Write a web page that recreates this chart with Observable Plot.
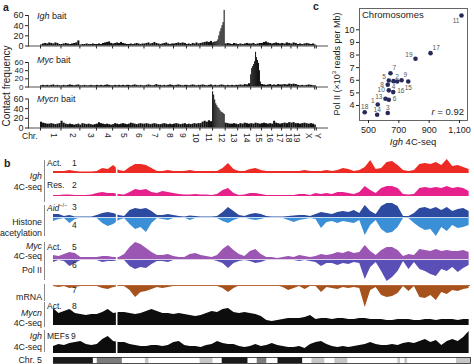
<!DOCTYPE html>
<html><head><meta charset="utf-8">
<script src="https://cdn.jsdelivr.net/npm/d3@7"></script>
<script src="https://cdn.jsdelivr.net/npm/@observablehq/plot@0.6"></script>
<style>
body{margin:0;background:#fff;font-family:"Liberation Sans",Arial,sans-serif;}
#root{position:relative;width:474px;height:364px;overflow:hidden;background:#fff;}
#root svg{position:absolute;}
</style></head><body><div id="root"></div>
<script>
// ---------------- DATA ----------------
// Panel a: mouse chromosomes (mm9 lengths, Mb)
const chromNames = ["1","2","3","4","5","6","7","8","9","10","11","12","13","14","15","16","17","18","19","X","Y"];
const chromLengths = [197.2,181.7,159.6,155.6,152.5,149.5,152.5,131.7,124.1,130.0,121.8,121.3,120.3,125.2,103.5,98.3,95.3,90.8,61.3,166.7,15.9];
// contact frequency per chromosome (bins spread evenly along each chromosome)
const ighBait = [
 [2,4,5,4,6,5,4,6,5,3],[3,4,5,4,3,4,5,6,10],[2,3,3,4,3,3,4,3],[3,4,3,5,6,7,8,5],
 [4,5,6,5,7,5,4,3],[3,4,3,4,5,4,3,4],[4,5,6,4,5,7,5,4],[3,4,5,6,4,3,4],
 [4,5,6,5,6,5],[3,4,3,5,4,6,4],[5,6,7,8,7,9],
 [6,7,8,8,9,12,20,28,34,40,46,70],
 [4,5,4,3,5,4],[3,4,3,4,5,4],[4,5,3,4,5],[5,7,8,6,5],[4,5,6,5,4],[5,4,6,5],[4,6,5],
 [3,4,3,4,5,4,3,4],[2]
];
const mycBait = [
 [3,4,3,4,3,4,5,3,4,3],[3,4,3,4,5,4,3,4,5],[3,3,4,3,3,4,3,3],[4,3,4,3,4,5,4,3],
 [3,4,3,4,3,4,3,4],[4,3,4,5,4,3,4,3],[3,4,5,4,3,4,6,4],[4,3,4,3,4,5,4],
 [3,4,5,4,3,4],[4,3,4,5,4,3,4],[4,5,4,3,4,5],[3,4,3,4,5,4],[3,4,3,4,3,4],[4,5,4,6,5,8],
 [30,45,50,55,62,85,72,65,58,40,12],
 [6,5,4,5,6],[4,5,4,6,5],[5,6,5,7],[6,7,6],[4,3,4,3,4,5,4,3],[3]
];
const mycnBait = [
 [12,10,9,8,8,9,8,7,8,9],[14,10,8,7,8,7,6,7,8],[6,9,8,7,8,7,6,7],[8,11,9,8,7,8,7,6],
 [7,9,8,7,8,9,8,7],[8,10,9,8,7,8,9,8],[8,9,8,7,8,9,8,7],[7,8,9,8,7,8,7],
 [8,9,8,7,8,9],[7,8,7,8,9,8,9],[9,12,14,12,15,13],
 [75,68,58,50,46,42,40,36,33,32,30,28],
 [10,9,8,8,9,8],[7,9,8,10,9,8],[9,8,10,9,8],[9,10,9,8,9],[8,14,10,9,8],[9,10,9,11],[10,11,9],
 [9,8,9,10,9,8,9,8],[6]
];
const contactTicks = [0,20,40,60];

// Panel b: chromosome 5 tracks, 2-Mb bins from 0 Mb
const binMb = 2;
const chr5Length = 152.5;
const act1 = [2,2,2,3,2,1.5,1.5,1.5,2,5, 4,8,3,2,6,9,9,8,5,2, 2,3,2,2,2,3,2,2,2,2, 2,5,10,4,2,2,4,5,3,2, 2,2,2,2,2,2,3,2,2,2, 3,2,3,5,4,2,3,6,13,4, 5,11,12,8,3,2,3,9,10,9, 11,8,14,7,8,6,4];
const res2 = [1,1,1.5,1.5,1,1,1,1.5,3,4, 3,3,2,1.5,4,7,6,7,4,3, 5,4,3,2,1.5,1.5,2,1.5,1.5,1, 2,6,8,3,1,1.5,3,3,2,1, 1,1,1,1,1,2,2,1,3,2, 3,2,4,4,3,2,4,10,6,3, 8,10,10,8,2,1.5,2,8,9,8, 9,8,10,8,9,8,5];
const aid3 = [3,3,1,2,0.5,0.5,0.5,0.5,2,4, 5,4,2,1,7,9,8,9,6,2, 2,3,2,1,0.5,1.5,1,0.5,0.5,0.5, 1,5,10,6,2,1,3,4,3,1, 0.5,0.5,0.5,1,1.5,2,2,1,3,5, 4,3,5,6,5,7,4,12,6,3, 11,14,14,11,1,1,4,9,10,8, 10,7,10,6,8,9,6];
const aid4 = [4,2,1,6,2,0.5,0.5,0.5,1,6, 9,7,3,1,7,12,10,15,6,1, 2,3,1,1,0.5,3,1,0.5,0.5,0.5, 1,4,6,3,1,0.5,2,3,2,0.5, 0.5,0.5,1,3,5,3,2,1,2,11, 5,4,6,4,5,6,3,18,8,3, 12,16,15,10,1,1,6,10,13,12, 19,10,14,8,11,10,8];
const act5 = [4,3,5,7,6,2,2,2,2,3, 3,2,2,5,12,17,15,11,7,4, 4,5,3,2,2,5,6,4,3,2, 4,10,14,9,5,3,8,10,5,2, 2,1,2,3,2,4,3,2,3,5, 4,5,7,6,8,6,7,14,8,4, 9,12,12,9,3,5,4,10,9,8, 10,8,9,8,8,9,7];
const pol6 = [3,1,2,7,4,1,0.5,1,1,3, 2,2,1,1,7,10,8,9,5,2, 2,3,1,1,0.5,1,1,0.5,0.5,0.5, 2,4,9,4,2,1,2,4,3,1, 0.5,0.5,1,1,1,2,1,2,3,7, 4,4,6,4,5,3,4,20,8,3, 12,22,18,12,2,10,3,10,12,15, 17,10,12,8,13,9,6];
const mrna7 = [1,2,1,3,2,1,0.5,0.5,1,3, 4,2,1,1,5,12,7,6,4,2, 3,2,1,0.5,0.5,1,0.5,0.5,0.5,0.5, 1,3,7,3,0.5,0.5,1,1,1,0.5, 0.5,0.5,2,5,3,1,4,1,1,7, 2,3,4,2,3,2,3,22,5,2, 10,12,11,8,1,6,1,12,13,10, 15,7,9,5,6,4,3];
const mycn8 = [17,12,14,16,12,11,10,11,11,13, 16,12,13,13,12,11,12,14,16,14, 12,12,11,12,11,10,9,10,12,14, 13,16,17,13,12,13,12,11,9,5, 4,5,6,7,7,7,8,10,6,7, 7,6,7,7,6,6,7,7,6,6, 6,5,5,6,6,6,5,5,6,6, 5,6,6,6,5,6,6];
const mef9 = [7,9,8,10,11,12,9,8,9,14, 17,12,11,11,9,8,7,7,8,8, 7,8,11,12,8,7,7,6,8,9, 12,10,9,9,7,6,7,9,7,8, 10,8,7,6,6,7,5,9,11,12, 9,7,6,7,6,7,8,9,11,9, 8,8,9,8,10,11,10,12,14,11, 13,8,12,14,12,16,22];
const unmappedGaps = [23.1];
// chromosome 5 ideogram bands (Mb)
const bandStart = [0,14.6,16,25.2,33.6,35,53.6,58.4,61.7,71.2,74.5,78.1,82.1,91.2,94.5,99.3,102.9,107.7,125.9,127,128.5,129.6,147.4];
const bandEnd   = [14.6,16,25.2,33.6,35,53.6,58.4,61.7,71.2,74.5,78.1,82.1,91.2,94.5,99.3,102.9,107.7,125.9,127,128.5,129.6,147.4,152.5];
const bandStain = ["gpos100","gneg","gpos75","gneg","gpos33","gneg","gpos33","gneg","gpos100","gneg","gpos75","gneg","gpos100","gneg","gpos33","gneg","gpos33","gneg","gpos33","gneg","gpos33","gneg","gpos33"];

// Panel c: per-chromosome Igh 4C-seq vs Pol II
const scatterChrom = ["1","2","3","4","5","6","7","8","9","10","11","13","14","15","16","17","18","19"];
const ighContacts  = [561,689,627,665,634,634,645,627,718,634,1113,612,557,762,663,909,475,810];
const polIIDensity = [4.08,5.9,3.4,5.93,5.98,4.45,6.56,5.64,6.0,5.2,11.13,4.53,3.27,5.9,5.06,8.15,3.47,7.7];
const scatterXTicks = [500,700,900,1100];
const scatterYTicks = [4,5,6,7,8,9,10];

// ---------------- LAYOUT HELPERS ----------------
const root = document.getElementById("root");
const FONT = "'Liberation Sans', Arial, sans-serif";
const baseStyle = {background:"transparent", overflow:"visible", fontFamily: FONT, fontSize:"9px", color:"#222"};
function put(el, left, top){ el.style.left = left+"px"; el.style.top = top+"px"; root.appendChild(el); return el; }
function label(html, x, y, o={}){
  const s = document.createElement("div"); const size = o.size || 9;
  s.innerHTML = html;
  s.style.cssText = `position:absolute;white-space:nowrap;line-height:1;font-size:${size}px;color:${o.color||"#222"};font-weight:${o.bold?"bold":"normal"};font-style:${o.italic?"italic":"normal"};font-family:${FONT};`;
  s.style.left = x+"px"; s.style.top = (y - size*0.85)+"px";
  if (o.anchor==="end") s.style.transform = "translateX(-100%)";
  if (o.anchor==="middle") s.style.transform = "translateX(-50%)";
  root.appendChild(s); return s;
}
function vlabel(html, cx, cy, size){
  const s = document.createElement("div");
  s.innerHTML = html;
  s.style.cssText = `position:absolute;white-space:nowrap;line-height:1;font-size:${size}px;color:#222;font-family:${FONT};left:${cx}px;top:${cy}px;transform:translate(-50%,-50%) rotate(-90deg);`;
  root.appendChild(s);
}
function vline(x, y1, y2, color){
  const d = document.createElement("div");
  d.style.cssText = `position:absolute;left:${x}px;top:${y1}px;width:1px;height:${y2-y1}px;background:${color||"#888"};`;
  root.appendChild(d);
}

// ---------------- PANEL A ----------------
const starts = []; let acc = 0;
chromLengths.forEach(l => { starts.push(acc); acc += l; });
const boundaries = [...starts, acc];
const chromLabels = chromNames.map((name,i) => ({name, c: starts[i] + chromLengths[i]/2}));
const axisEnd = 2772;
function bins(perChrom){
  const out = [];
  perChrom.forEach((vals,c) => { const n = vals.length;
    vals.forEach((v,j) => out.push({x1: starts[c] + chromLengths[c]*j/n, x2: starts[c] + chromLengths[c]*(j+1)/n, v})); });
  return out;
}
function genomePanel(perChrom, top, height, zero, sixty, tickFont, withLabels){
  const marks = [
    Plot.rect(bins(perChrom), {x1:"x1", x2:"x2", y1:0, y2:"v", fill:"#111"}),
    Plot.ruleY([0], {stroke:"#222", strokeWidth:0.8}),
    Plot.frame({anchor:"left", stroke:"#222", strokeWidth:0.8}),
    Plot.axisY({ticks: contactTicks, tickSize:3, tickPadding:2, fontSize:tickFont, label:null}),
    Plot.axisX({ticks: boundaries, tickSize:3, tickFormat: () => "", label:null})
  ];
  if (withLabels) marks.push(Plot.text(chromLabels, {x:"c", text:"name", frameAnchor:"bottom", rotate:90, textAnchor:"start", dy:5, fontSize:8.5, fill:"#222"}));
  const p = Plot.plot({width:340, height, marginLeft:28, marginRight:12, marginTop: sixty - top, marginBottom: top + height - zero,
    x:{domain:[0, axisEnd], range:[40, 328]}, y:{domain:[0,60]}, style: baseStyle, marks});
  return put(p, 0, top);
}
genomePanel(ighBait, 0, 52, 45.5, 15, 9, false);
genomePanel(mycBait, 47, 46, 86.5, 62, 8, false);
genomePanel(mycnBait, 88, 64, 127.5, 98.5, 9, true);

label("a", 3, 11, {bold:true, size:10.5});
label("<i>Igh</i> bait", 37, 20, {size:9});
label("<i>Myc</i> bait", 37, 64, {size:9});
label("<i>Mycn</i> bait", 37, 103, {size:9});
label("Chr.", 22, 139, {size:8.5});
vlabel("Contact frequency", 7, 86, 10);

// ---------------- PANEL B ----------------
const toSeries = arr => arr.map((v,i) => ({pos: i*binMb, v}));
function track(base, up, down, opts){
  const marks = [];
  if (opts.upVals) marks.push(Plot.areaY(toSeries(opts.upVals), {x:"pos", y:"v", fill: opts.upColor}));
  if (opts.downVals) marks.push(Plot.areaY(toSeries(opts.downVals), {x:"pos", y: d => -d.v, fill: opts.downColor}));
  if (opts.line) marks.push(Plot.ruleY([0], {stroke: opts.line, strokeWidth: opts.lineWidth || 1}));
  marks.push(Plot.ruleX(unmappedGaps, {stroke:"#fff", strokeWidth:1.6}));
  const p = Plot.plot({width:474, height: up + down, marginLeft:53, marginRight:4, marginTop:0, marginBottom:0,
    x:{domain:[0, chr5Length], axis:null}, y:{domain:[-down, up], axis:null}, style: baseStyle, marks});
  return put(p, 0, base - up);
}
track(173, 16, 1, {upVals: act1, upColor:"#ee2a24"});
track(196, 12, 1, {upVals: res2, upColor:"#e6218c"});
track(217, 15, 20, {upVals: aid3, upColor:"#2c4a9f", downVals: aid4, downColor:"#3b8fd6", line:"#c7dbf2", lineWidth:1.2});
track(259, 19, 23, {upVals: act5, upColor:"#9b56b3", downVals: pol6, downColor:"#5a4fb6", line:"#e0d2ea", lineWidth:1.2});
track(285, 2, 23, {downVals: mrna7, downColor:"#a5521c", line:"#b8683a", lineWidth:1});
track(325, 18, 1, {upVals: mycn8, upColor:"#0d0d0d"});
track(353, 23, 1, {upVals: mef9, upColor:"#0d0d0d"});

// ideogram
const stainColor = {gpos100:"#1a1a1a", gpos75:"#7c7c7c", gpos33:"#c6c6c6", gneg:"#ffffff"};
const bands = bandStart.map((s,i) => ({s, e: bandEnd[i], stain: bandStain[i]}));
put(Plot.plot({width:474, height:6, marginLeft:53, marginRight:4, marginTop:0, marginBottom:0,
  x:{domain:[0, chr5Length], axis:null}, y:{domain:[0,1], axis:null}, style: baseStyle,
  marks:[Plot.rect(bands, {x1:"s", x2:"e", y1:0, y2:1, fill: d => stainColor[d.stain]}), Plot.frame({stroke:"#222", strokeWidth:0.8})]}), 0, 357);

label("b", 4, 167, {bold:true, size:10.5});
// brackets
vline(44, 160, 202, "#8a8a8a");
vline(44, 205, 236, "#8a8a8a");
vline(44, 242, 280, "#8a8a8a");
vline(44, 284, 301, "#8a8a8a");
vline(44, 302, 327, "#8a8a8a");
vline(44, 330, 352, "#8a8a8a");
// right-aligned group labels
const gl = 8.8;
label("<i>Igh</i>", 42, 179, {anchor:"end", size:gl});
label("4C-seq", 42, 190, {anchor:"end", size:gl});
label("Histone", 42, 225, {anchor:"end", size:gl});
label("acetylation", 42, 236, {anchor:"end", size:gl});
label("<i>Myc</i>", 42, 249, {anchor:"end", size:gl});
label("4C-seq", 42, 259, {anchor:"end", size:gl});
label("Pol II", 42, 273, {anchor:"end", size:gl});
label("mRNA", 42, 300, {anchor:"end", size:gl});
label("<i>Mycn</i>", 42, 316, {anchor:"end", size:gl});
label("4C-seq", 42, 326, {anchor:"end", size:gl});
label("<i>Igh</i>", 42, 339, {anchor:"end", size:gl});
label("4C-seq", 42, 350, {anchor:"end", size:gl});
label("Chr. 5", 42, 363, {anchor:"end", size:gl});
// track labels
const tl = 8.5;
label("Act.", 47, 166, {size:tl}); label("1", 72, 166, {size:tl});
label("Res.", 47, 188, {size:tl}); label("2", 72, 188, {size:tl});
label("<i>Aid</i><sup style='font-size:5.5px;font-style:normal'>−/−</sup>", 47, 210, {size:tl}); label("3", 72, 210, {size:tl});
label("4", 72, 228, {size:tl});
label("Act.", 47, 250, {size:tl}); label("5", 72, 250, {size:tl});
label("6", 72, 268, {size:tl});
label("7", 72, 293, {size:tl});
label("Act.", 47, 309, {size:tl}); label("8", 72, 309, {size:tl});
label("MEFs", 47, 339, {size:tl}); label("9", 71, 339, {size:tl});

// ---------------- PANEL C ----------------
const pts = scatterChrom.map((c,i) => ({c, x: ighContacts[i], y: polIIDensity[i]}));
const placement = {n:["2","3","14","18"], s:["4","15"], w:["8","10"], wl:["13"], e:["6","16"], ne:["7","9","17"], nw:["5","19","1"], sw:["11"]};
const offsets = {n:[0,-5,"middle"], s:[0,6,"middle"], w:[-4,0,"end"], wl:[-3,-2,"end"], e:[4,-1,"start"], ne:[2,-5,"start"], nw:[-3,-4,"end"], sw:[-2,5,"end"]};
const labelMarks = Object.entries(placement).map(([k, list]) =>
  Plot.text(pts, {filter: d => list.includes(d.c), x:"x", y:"y", text:"c", dx: offsets[k][0], dy: offsets[k][1], textAnchor: offsets[k][2], fontSize:6.5, fill:"#555"}));
put(Plot.plot({width:174, height:150, marginLeft:59, marginRight:7, marginTop:8, marginBottom:30,
  x:{domain:[440.7, 1152.7]}, y:{domain:[2.81, 11.69]}, style: baseStyle,
  marks:[
    Plot.frame({stroke:"#555", strokeWidth:0.9}),
    Plot.axisX({ticks: scatterXTicks, tickFormat: d3.format(","), tickSize:3, tickPadding:3, fontSize:9, label:null}),
    Plot.axisY({ticks: scatterYTicks, tickSize:3, tickPadding:2, fontSize:9, label:null}),
    Plot.dot(pts, {x:"x", y:"y", r:2.3, fill:"#272a5c"}),
    ...labelMarks
  ]}), 300, 0);
label("c", 313, 10, {bold:true, size:10.5});
label("Chromosomes", 362, 18, {size:9.5});
label("<i>r</i> = 0.92", 464, 115, {anchor:"end", size:9.5});
label("<i>Igh</i> 4C-seq", 413, 145, {anchor:"middle", size:9.5});
vlabel("Pol II (×10<sup style='font-size:6px'>3</sup> reads per Mb)", 336, 64, 9);
</script></body></html>
